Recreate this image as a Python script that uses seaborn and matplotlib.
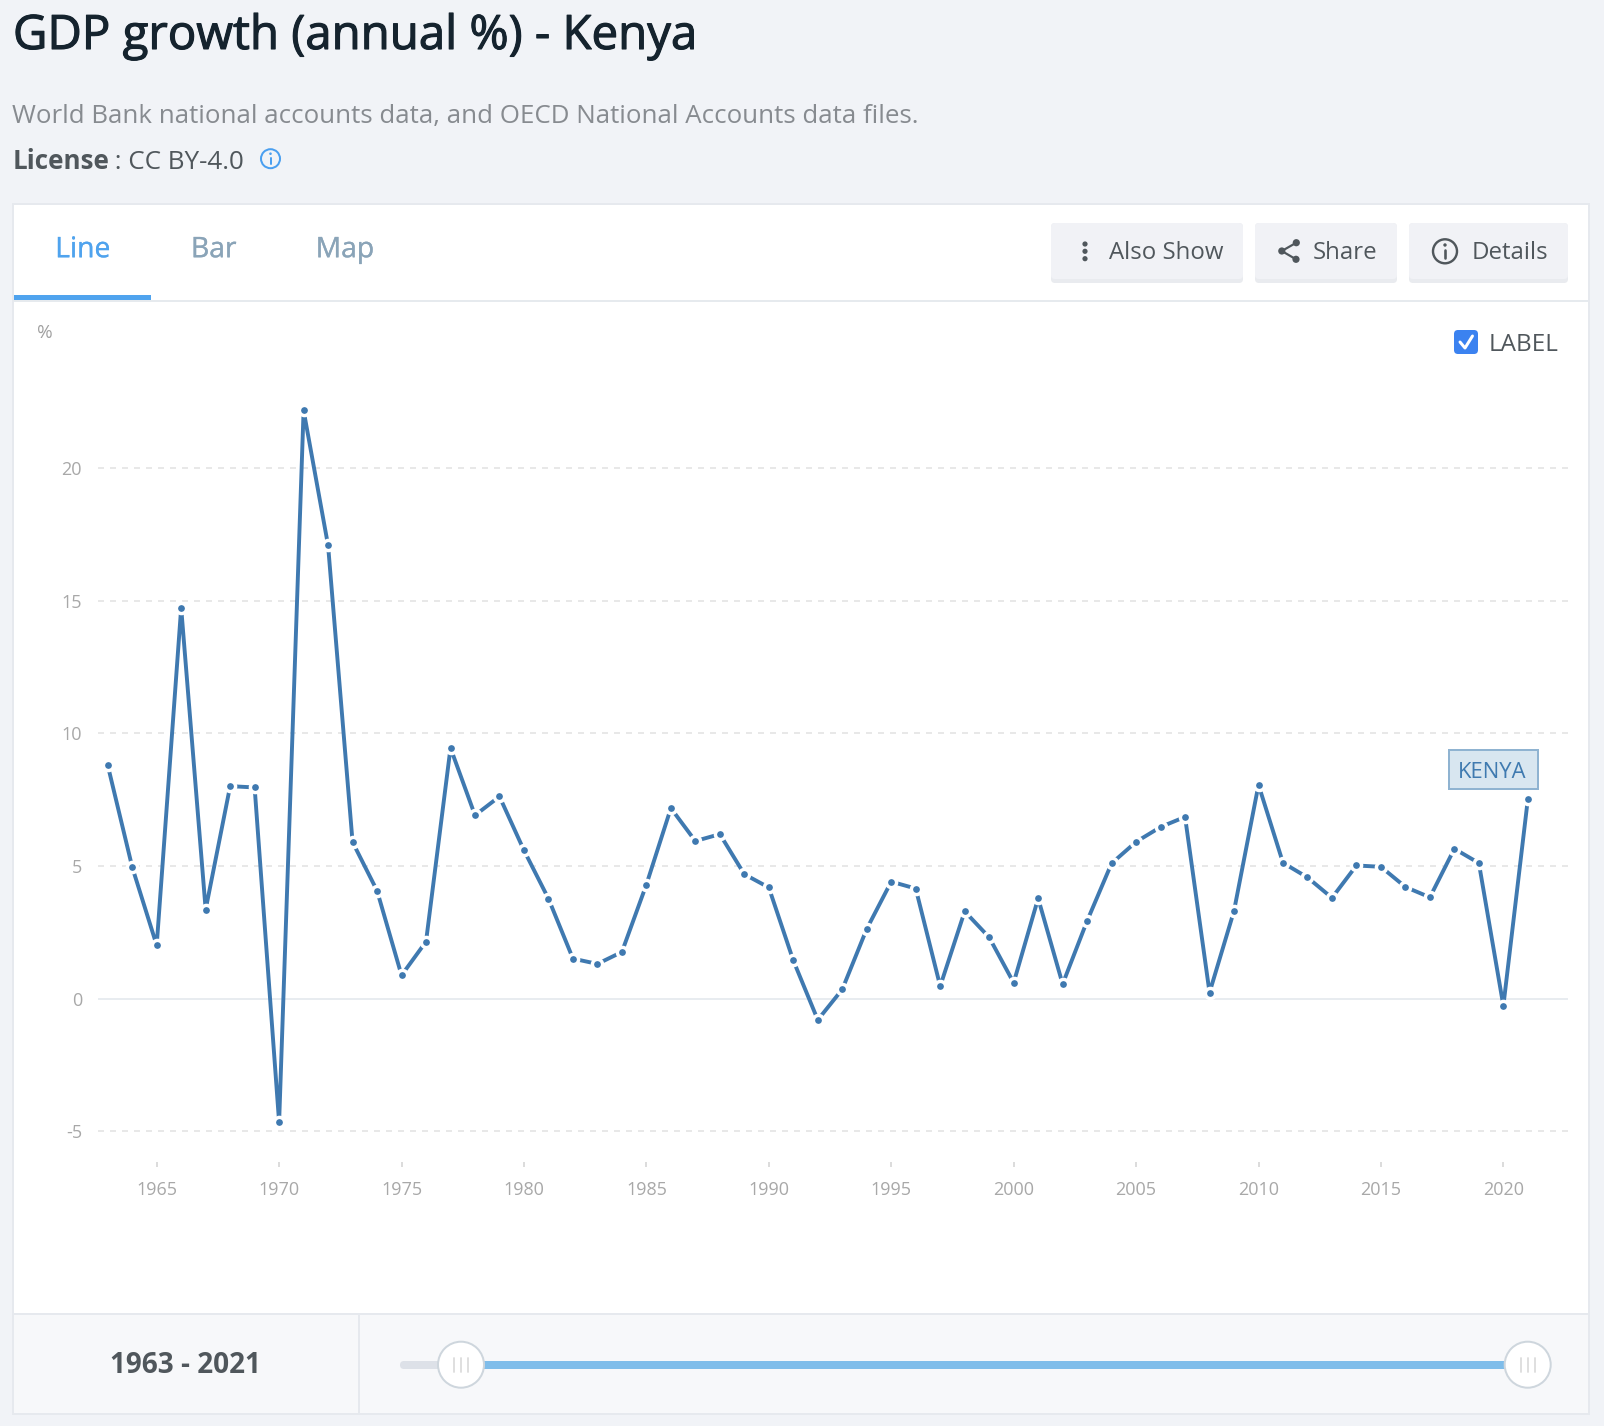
import matplotlib
matplotlib.use("Agg")
import matplotlib.pyplot as plt
from matplotlib.patches import Rectangle, FancyBboxPatch, Circle
import matplotlib.patheffects as pe
import seaborn as sns
import pandas as pd

years = list(range(1963, 2022))
gdp_growth = [8.80, 4.96, 2.01, 14.73, 3.36, 8.01, 7.96, -4.66, 22.17, 17.08,
              5.90, 4.07, 0.88, 2.15, 9.45, 6.91, 7.62, 5.59, 3.77, 1.51,
              1.31, 1.76, 4.30, 7.18, 5.94, 6.20, 4.69, 4.19, 1.44, -0.80,
              0.35, 2.63, 4.41, 4.15, 0.47, 3.29, 2.31, 0.60, 3.78, 0.55,
              2.93, 5.10, 5.91, 6.47, 6.85, 0.23, 3.31, 8.06, 5.12, 4.57,
              3.80, 5.02, 4.97, 4.21, 3.82, 5.65, 5.11, -0.27, 7.52]
x_ticks = list(range(1965, 2021, 5))
y_ticks = [-5, 0, 5, 10, 15, 20]

title = "GDP growth (annual %) - Kenya"
subtitle = "World Bank national accounts data, and OECD National Accounts data files."
tabs = ["Line", "Bar", "Map"]
series_label = "KENYA"
range_label = "1963 - 2021"

W, H = 1604, 1426
PX = 0.72  # points per pixel at 100 dpi

sns.set_theme(style="white")
plt.rcParams["font.family"] = ["Open Sans", "DejaVu Sans"]
plt.rcParams["axes.unicode_minus"] = False

fig = plt.figure(figsize=(W / 100, H / 100), dpi=100, facecolor="#f1f3f7")

# ---- page chrome, drawn in pixel coordinates
ui = fig.add_axes([0, 0, 1, 1], zorder=0)
ui.set_xlim(0, W)
ui.set_ylim(H, 0)
ui.axis("off")


def rect(x0, y0, x1, y1, fc, ec="none", lw=0, z=1):
    ui.add_patch(Rectangle((x0, y0), x1 - x0, y1 - y0, fc=fc, ec=ec, lw=lw, zorder=z))


def rbox(x0, y0, x1, y1, fc, r=4, z=2):
    ui.add_patch(FancyBboxPatch((x0 + r, y0 + r), x1 - x0 - 2 * r, y1 - y0 - 2 * r,
                                boxstyle=f"round,pad={r},rounding_size={r}",
                                fc=fc, ec="none", zorder=z))


def label(x, y, s, size, color, ha="left", weight="normal", z=5, stroke=0):
    t = ui.text(x, y, s, fontsize=size * PX, color=color, ha=ha, va="baseline",
                fontweight=weight, zorder=z)
    if stroke:
        t.set_path_effects([pe.withStroke(linewidth=stroke * PX, foreground=color)])
    return t


def circle(x, y, r, fc="none", ec="none", lw=0, z=4):
    ui.add_patch(Circle((x, y), r, fc=fc, ec=ec, lw=lw * PX, zorder=z))


DARK = "#50575c"
# card
rect(12, 203, 1590, 1415, "#e6e9ee")
rect(14, 205, 1588, 1413, "#ffffff")
# header
label(13, 49, title, 47.4, "#15232e", stroke=1.1)
label(12.5, 122.7, subtitle, 25.9, "#878b90")
label(13, 169, "License", 26, DARK, weight="bold")
label(108.5, 169, " : CC BY-4.0", 26, DARK)
circle(270.5, 158.7, 9.5, ec="#4a9ff0", lw=2)
ui.plot([270.5, 270.5], [157.5, 164], color="#4a9ff0", lw=2 * PX, zorder=5)
circle(270.5, 153.7, 1.3, fc="#4a9ff0")
# tabs
rect(14, 299.5, 1588, 301.5, "#e6eaee")
rect(14, 295, 151, 299.5, "#4fa3ee", z=2)
for cx, name, col in zip([82.7, 213.7, 344.8], tabs, ["#4fa3ee", "#8aa4b8", "#8aa4b8"]):
    label(cx, 257.2, name, 28.3, col, ha="center", stroke=0.3)
# buttons
for x0, x1 in [(1051, 1243), (1255, 1397), (1409, 1568)]:
    rbox(x0, 223, x1, 283, "#e9ebef")
    rbox(x0, 223, x1, 279, "#f1f2f6", z=3)
label(1109, 259, "Also Show", 24, DARK)
label(1313, 259, "Share", 24, DARK)
label(1471.5, 259, "Details", 24, DARK)
for yy in [244, 251.3, 258.7]:
    circle(1085, yy, 2.6, fc=DARK)
ui.plot([1296.3, 1281.8, 1296], [242.7, 251, 259.3], color=DARK, lw=2.2 * PX, zorder=4)
for xx, yy in [(1296.3, 242.7), (1281.8, 251), (1296, 259.3)]:
    circle(xx, yy, 3.6, fc=DARK)
circle(1445, 251.3, 12, ec=DARK, lw=2.4)
ui.plot([1445, 1445], [250, 258], color=DARK, lw=2.6 * PX, zorder=5)
circle(1445, 245, 1.7, fc=DARK)
# checkbox
rbox(1454, 330, 1478, 354, "#3b82f0", r=4)
ui.plot([1460, 1465, 1472.5], [342, 348, 336], color="white", lw=3 * PX, zorder=5)
label(1489, 350.7, "LABEL", 24.3, DARK)
# chart annotations
label(37, 337.5, "%", 19, "#a0a0a0")
rect(1448.5, 750, 1538, 788.5, "#d8e6f0", ec="#8fb3d1", lw=2 * PX, z=2)
label(1492.5, 778, series_label, 22, "#3f7ab0", ha="center")
# footer
rect(14, 1313, 1588, 1315, "#e6e9ee", z=3)
rect(14, 1315, 1588, 1413, "#f7f8fa", z=2)
rect(358, 1315, 360, 1413, "#e6e9ee", z=3)
label(185.8, 1373, range_label, 27.9, DARK, ha="center", weight="bold")
rbox(400, 1361, 470, 1369, "#dde1e8", r=4, z=3)
rect(461, 1361, 1528, 1369, "#7fbdea", z=3)
for cx in [461, 1527.7]:
    circle(cx, 1364.7, 23, fc="white", ec="#ced6dd", lw=2, z=4)
    for dx in [-7, 0, 7]:
        ui.plot([cx + dx, cx + dx], [1357.5, 1371.5], color="#dcdcdc", lw=1.8 * PX, zorder=5)

# ---- the chart
L, R, T, B = 98, 1568, 360, 1161.7
ax = fig.add_axes([L / W, 1 - B / H, (R - L) / W, (B - T) / H], zorder=1)
ax.patch.set_alpha(0)
df = pd.DataFrame({"year": years, "growth": gdp_growth})
sns.lineplot(data=df, x="year", y="growth", ax=ax, color="#3f79b0", linewidth=3.9 * PX,
             marker="o", markersize=10.2 * PX, markerfacecolor="#3f79b0",
             markeredgecolor="white", markeredgewidth=3.4 * PX, zorder=4,
             errorbar=None, clip_on=False)
ax.set_xlim(1962.603, 2022.64)
ax.set_ylim(-6.144, 24.07)
ax.set_xticks(x_ticks)
ax.set_yticks(y_ticks)
ax.set_xlabel("")
ax.set_ylabel("")
for s in ax.spines.values():
    s.set_visible(False)
ax.tick_params(axis="x", length=5.3 * PX, width=2 * PX, color="#dcdcdc", pad=14 * PX,
               labelsize=18 * PX, labelcolor="#a8a8a8", bottom=True)
ax.tick_params(axis="y", length=0, pad=16 * PX, labelsize=18 * PX, labelcolor="#a8a8a8")
ax.yaxis.grid(True, color="#e8e8e8", linewidth=2 * PX, linestyle=(0, (3, 3)), zorder=1)
ax.xaxis.grid(False)
ax.set_axisbelow(True)
ax.axhline(0, color="#e8ecf0", linewidth=2 * PX, zorder=2)

fig.savefig("out.png", dpi=100, facecolor=fig.get_facecolor())
